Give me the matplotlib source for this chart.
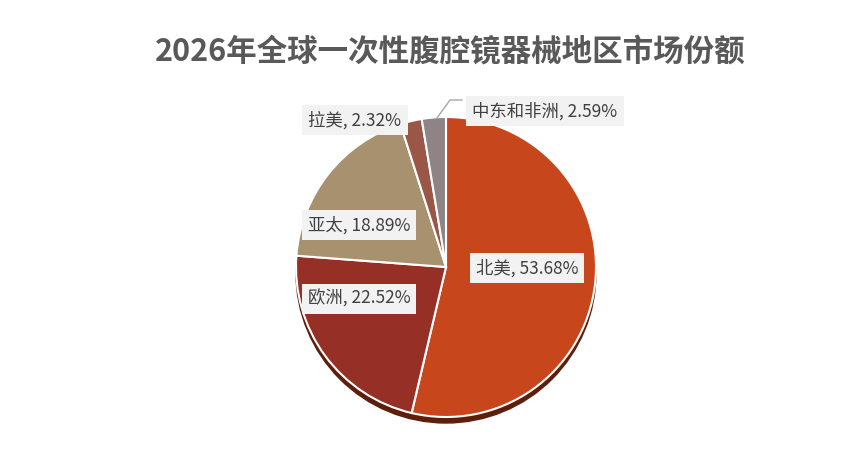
import matplotlib.pyplot as plt
from matplotlib.patches import Circle

plt.rcParams['font.family'] = ['Noto Sans CJK SC', 'DejaVu Sans']

# データ
regions = ['北美', '欧洲', '亚太', '拉美', '中东和非洲']
shares = [53.68, 22.52, 18.89, 2.32, 2.59]
colors = ['#C8461B', '#962F25', '#A8916F', '#9A5748', '#8E8486']
title = '2026年全球一次性腹腔镜器械地区市场份额'

# ラベル位置 (ピクセル座標)
label_pos = [(527, 193), (359, 162), (359, 236), (355, 341), (545, 350)]

fig = plt.figure(figsize=(8.65, 4.61), dpi=100)
ax = fig.add_axes([0, 0, 1, 1])

cx, cy, r = 446, 194, 150

# 影
ax.add_patch(Circle((cx, cy - 6), r, color='#5E1E0C', zorder=0))

ax.pie(shares, colors=colors, startangle=90, counterclock=False,
       center=(cx, cy), radius=r, frame=True,
       wedgeprops=dict(edgecolor='white', linewidth=1.5))
ax.set_xlim(0, 865)
ax.set_ylim(0, 461)
ax.axis('off')

for name, val, (x, y) in zip(regions, shares, label_pos):
    ax.text(x, y, f'{name}, {val:.2f}%', ha='center', va='center',
            fontsize=12.5, color='#404040', zorder=5,
            bbox=dict(boxstyle='square,pad=0.35', facecolor='#F2F2F2', edgecolor='none'))

# 中東のリーダー線
ax.plot([437, 450, 462], [343, 361, 361], color='#A6A6A6', linewidth=1, zorder=4)

fig.text(0.52, 0.887, title, ha='center', va='center', fontsize=22,
         fontweight='bold', color='#595959')

fig.savefig('out.png', dpi=100)
